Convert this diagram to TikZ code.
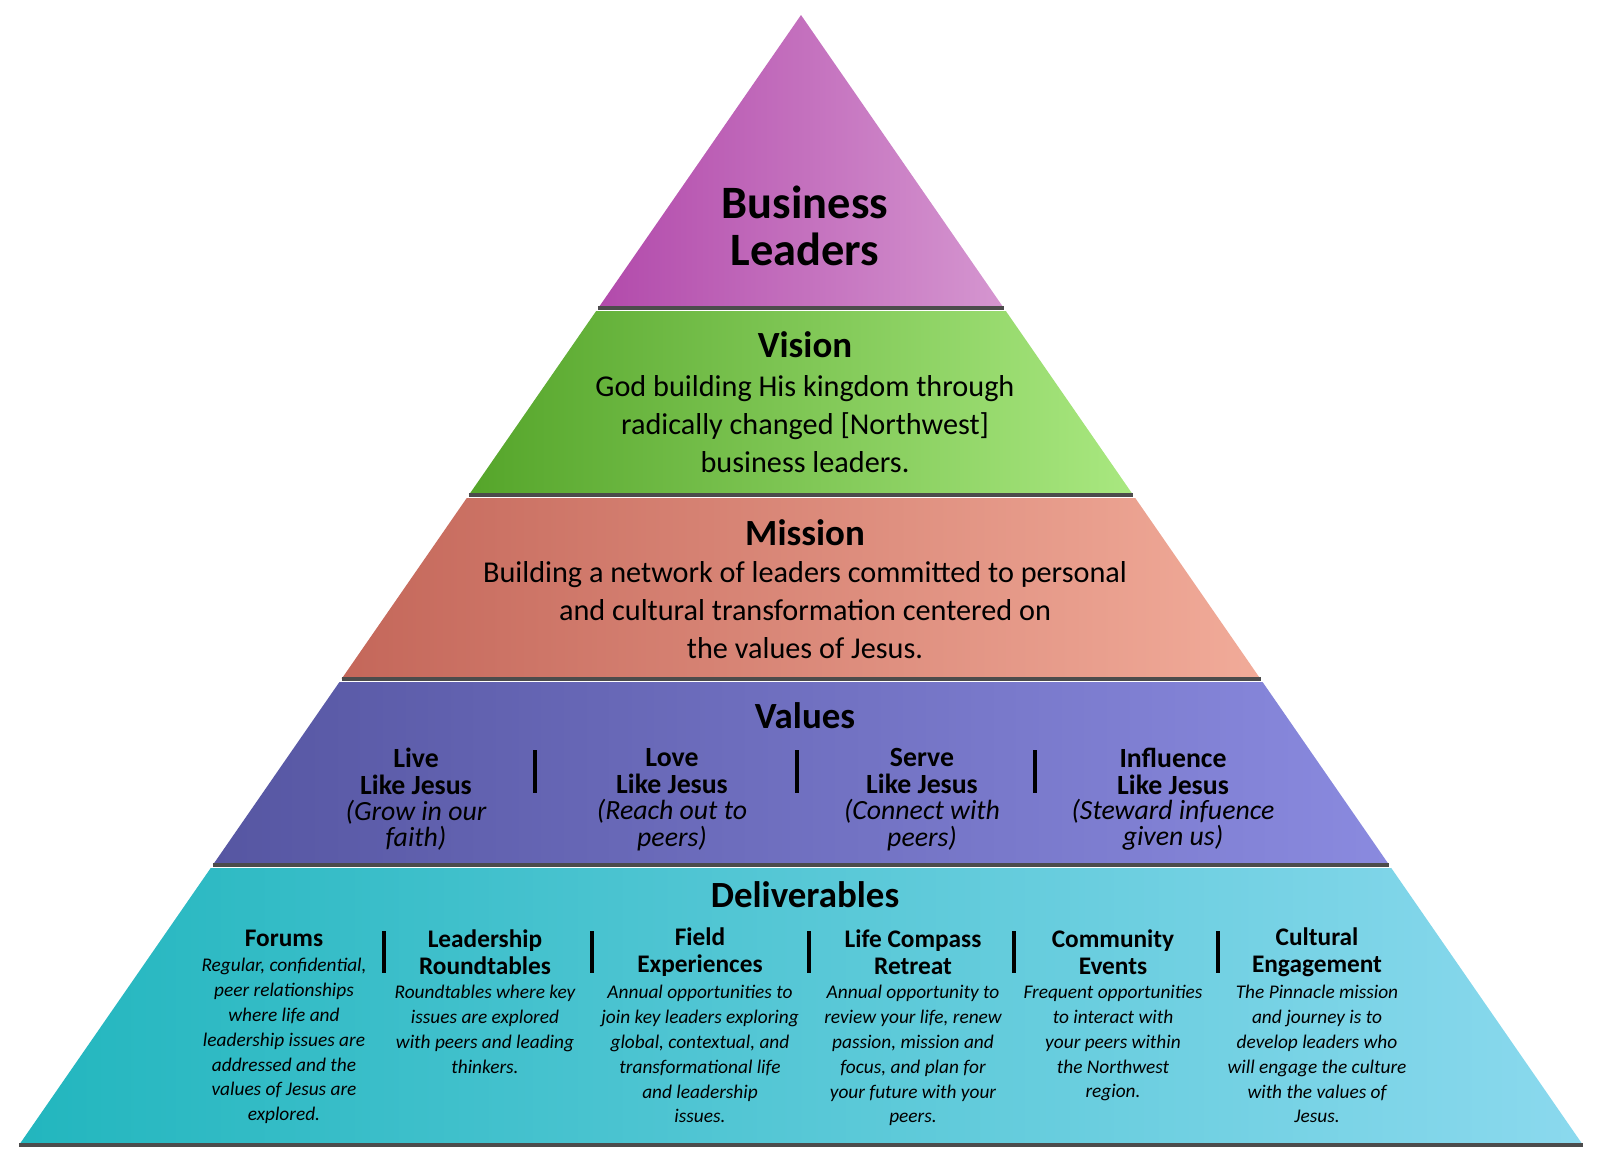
\documentclass[tikz,border=0pt]{standalone}
\usepackage{fontspec}
\setmainfont{Carlito}
\begin{document}
\begin{tikzpicture}[x=0.01cm,y=-0.01cm,
 band/.style={draw=none},
 ttl/.style={font=\fontsize{10.5}{12}\selectfont\bfseries,align=center},
 body/.style={font=\fontsize{8.6}{10.8}\selectfont,align=center},
 vh/.style={font=\fontsize{7.9}{7.7}\selectfont\bfseries,align=center},
 vi/.style={font=\fontsize{7.9}{7.5}\selectfont\itshape,align=center},
 dh/.style={font=\fontsize{7.2}{7.8}\selectfont\bfseries,align=center},
 di/.style={font=\fontsize{5.5}{7.05}\selectfont\itshape,align=center,anchor=north},
 sep/.style={line width=0.9pt,black}]
\useasboundingbox (0,0) rectangle (1600,1172);
\definecolor{BL}{HTML}{B24AAB}\definecolor{BR}{HTML}{D596D0}
\definecolor{GL}{HTML}{55A52A}\definecolor{GR}{HTML}{A9E880}
\definecolor{ML}{HTML}{C4675A}\definecolor{MR}{HTML}{F1AB99}
\definecolor{VL}{HTML}{5656A2}\definecolor{VR}{HTML}{8A8ADF}
\definecolor{DL}{HTML}{22B6BE}\definecolor{DR}{HTML}{8BD9EE}
\foreach \t/\b/\ca/\cb in {15/308/BL/BR,311/495/GL/GR,498/679/ML/MR,682/865/VL/VR,868/1145/DL/DR}{
 \pgfmathsetmacro{\xl}{801-0.692*(\t-15)}
 \pgfmathsetmacro{\xr}{801+0.692*(\t-15)}
 \pgfmathsetmacro{\bl}{801-0.692*(\b-15)}
 \pgfmathsetmacro{\br}{801+0.692*(\b-15)}
 \shade[band,left color=\ca,right color=\cb] (\xl,\t) -- (\xr,\t) -- (\br,\b) -- (\bl,\b) -- cycle;
 \draw[line width=1.2pt,black!70] (\bl,\b) -- (\br,\b);
}
\node[font=\fontsize{13.2}{13.2}\selectfont\bfseries,align=center] (bl) at (805,226) {Business\\Leaders};
\node[ttl] (vt) at (805,345) {Vision};
\node[body] (vb) at (805,424) {God building His kingdom through\\radically changed [Northwest]\\business leaders.};
\node[ttl] (mt) at (805,533) {Mission};
\node[body] (mb) at (805,610) {Building a network of leaders committed to personal\\and cultural transformation centered on\\the values of Jesus.};
\node[ttl] (vat) at (805,716) {Values};
\foreach \x/\a/\bb/\c/\d [count=\i] in {416/Live/Like Jesus/(Grow in our/faith),672/Love/Like Jesus/(Reach out to/peers),922/Serve/Like Jesus/(Connect with/peers),1173/Influence/Like Jesus/(Steward  infuence/given us)}{
 \node[vh] (vh\i) at (\x,771) {\a\\\bb};
 \node[vi] (vi\i) at (\x,825) {\c\\\d};
}
\foreach \x [count=\i] in {535,797,1035}{\draw[sep] (\x,750) -- (\x,793);}
\node[ttl] (dt) at (805,895) {Deliverables};
\node[dh] (d1) at (284,938) {Forums};
\node[di] (e1) at (284,946) {Regular, confidential,\\peer relationships\\where life and\\leadership issues are\\addressed and the\\values of Jesus are\\explored.};
\foreach \x/\a/\bb/\txt [count=\i] in {
 485/Leadership/Roundtables/{Roundtables where key\\issues are explored\\with peers and leading\\thinkers.},
 700/Field/Experiences/{Annual opportunities to\\join key leaders exploring\\global, contextual, and\\transformational life\\and leadership\\issues.},
 913/Life Compass/Retreat/{Annual opportunity to\\review your life, renew\\passion, mission and\\focus, and plan for\\your future with your\\peers.},
 1113/Community/Events/{Frequent opportunities\\to interact with\\your peers within\\the Northwest\\region.},
 1317/Cultural/Engagement/{The Pinnacle mission\\and journey is to\\develop leaders who\\will engage the culture\\with the values of\\Jesus.}}{
 \node[dh] (dh\i) at (\x,952) {\a\\\bb};
 \node[di] (de\i) at (\x,973) {\txt};
}
\foreach \x in {384,592,809,1014,1218}{\draw[sep] (\x,931) -- (\x,973);}
\end{tikzpicture}
\end{document}
